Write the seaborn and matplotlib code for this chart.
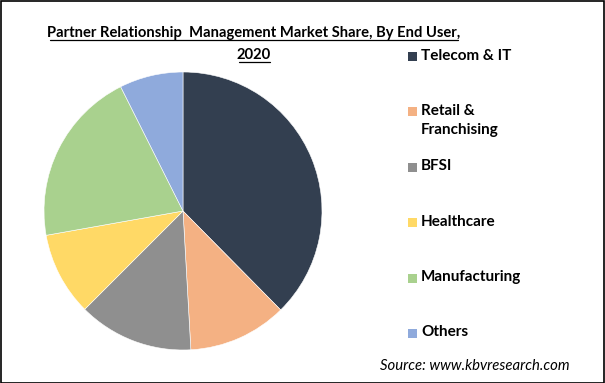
import matplotlib
matplotlib.use('Agg')
import matplotlib.pyplot as plt
from matplotlib.lines import Line2D
from matplotlib.patches import Rectangle
import seaborn as sns

sns.set_theme(style="white")
plt.rcParams['font.family'] = ['Lato', 'DejaVu Sans']

# data
labels = ['Telecom & IT', 'Retail &\nFranchising', 'BFSI', 'Healthcare', 'Manufacturing', 'Others']
shares = [37.6, 11.5, 13.4, 9.7, 20.4, 7.4]
colors = ['#333F50', '#F4B183', '#8F8F8F', '#FFD966', '#A9D18E', '#8FAADC']

W, H = 605, 383
fig = plt.figure(figsize=(W / 100, H / 100), dpi=100)
fig.patch.set_facecolor('white')

# pie: centre (183, 211) px, radius 139 px
cx, cy, r = 183, 211, 139
ax = fig.add_axes([(cx - r) / W, (H - cy - r) / H, 2 * r / W, 2 * r / H])
ax.pie(shares, colors=colors, startangle=90, counterclock=False,
       wedgeprops=dict(edgecolor='white', linewidth=0.4))
ax.set_xlim(-1, 1)
ax.set_ylim(-1, 1)
ax.set_aspect('equal')
ax.axis('off')

# title with underline
fig.text(254 / W, 1 - 33 / H, 'Partner Relationship  Management Market Share, By End User,',
         ha='center', va='center', fontsize=10.6, fontweight='bold', color='black')
fig.text(254 / W, 1 - 55 / H, '2020', ha='center', va='center',
         fontsize=10.6, fontweight='bold', color='black')
fig.add_artist(Line2D([50 / W, 458 / W], [1 - 39.5 / H, 1 - 39.5 / H], color='black', lw=0.9))
fig.add_artist(Line2D([239 / W, 270 / W], [1 - 61.5 / H, 1 - 61.5 / H], color='black', lw=0.9))

# legend
for i, (lab, col) in enumerate(zip(labels, colors)):
    y = 56.5 + i * 55.4
    fig.add_artist(Rectangle((408 / W, 1 - (y + 4.5) / H), 9 / W, 9 / H,
                             transform=fig.transFigure, color=col, lw=0))
    fig.text(421 / W, 1 - (y - 8) / H, lab, ha='left', va='top',
             fontsize=11, fontweight='bold', color='black', linespacing=1.5)

# source
fig.text(570 / W, 1 - 366 / H, 'Source: www.kbvresearch.com', ha='right', va='center',
         fontsize=10.7, fontstyle='italic', color='black')

# outer frame
fig.add_artist(Rectangle((0.5 / W, 0.5 / H), (W - 1.5) / W, (H - 1.5) / H,
                         transform=fig.transFigure, fill=False, edgecolor='black', lw=1.2))

fig.savefig('out.png', dpi=100)
